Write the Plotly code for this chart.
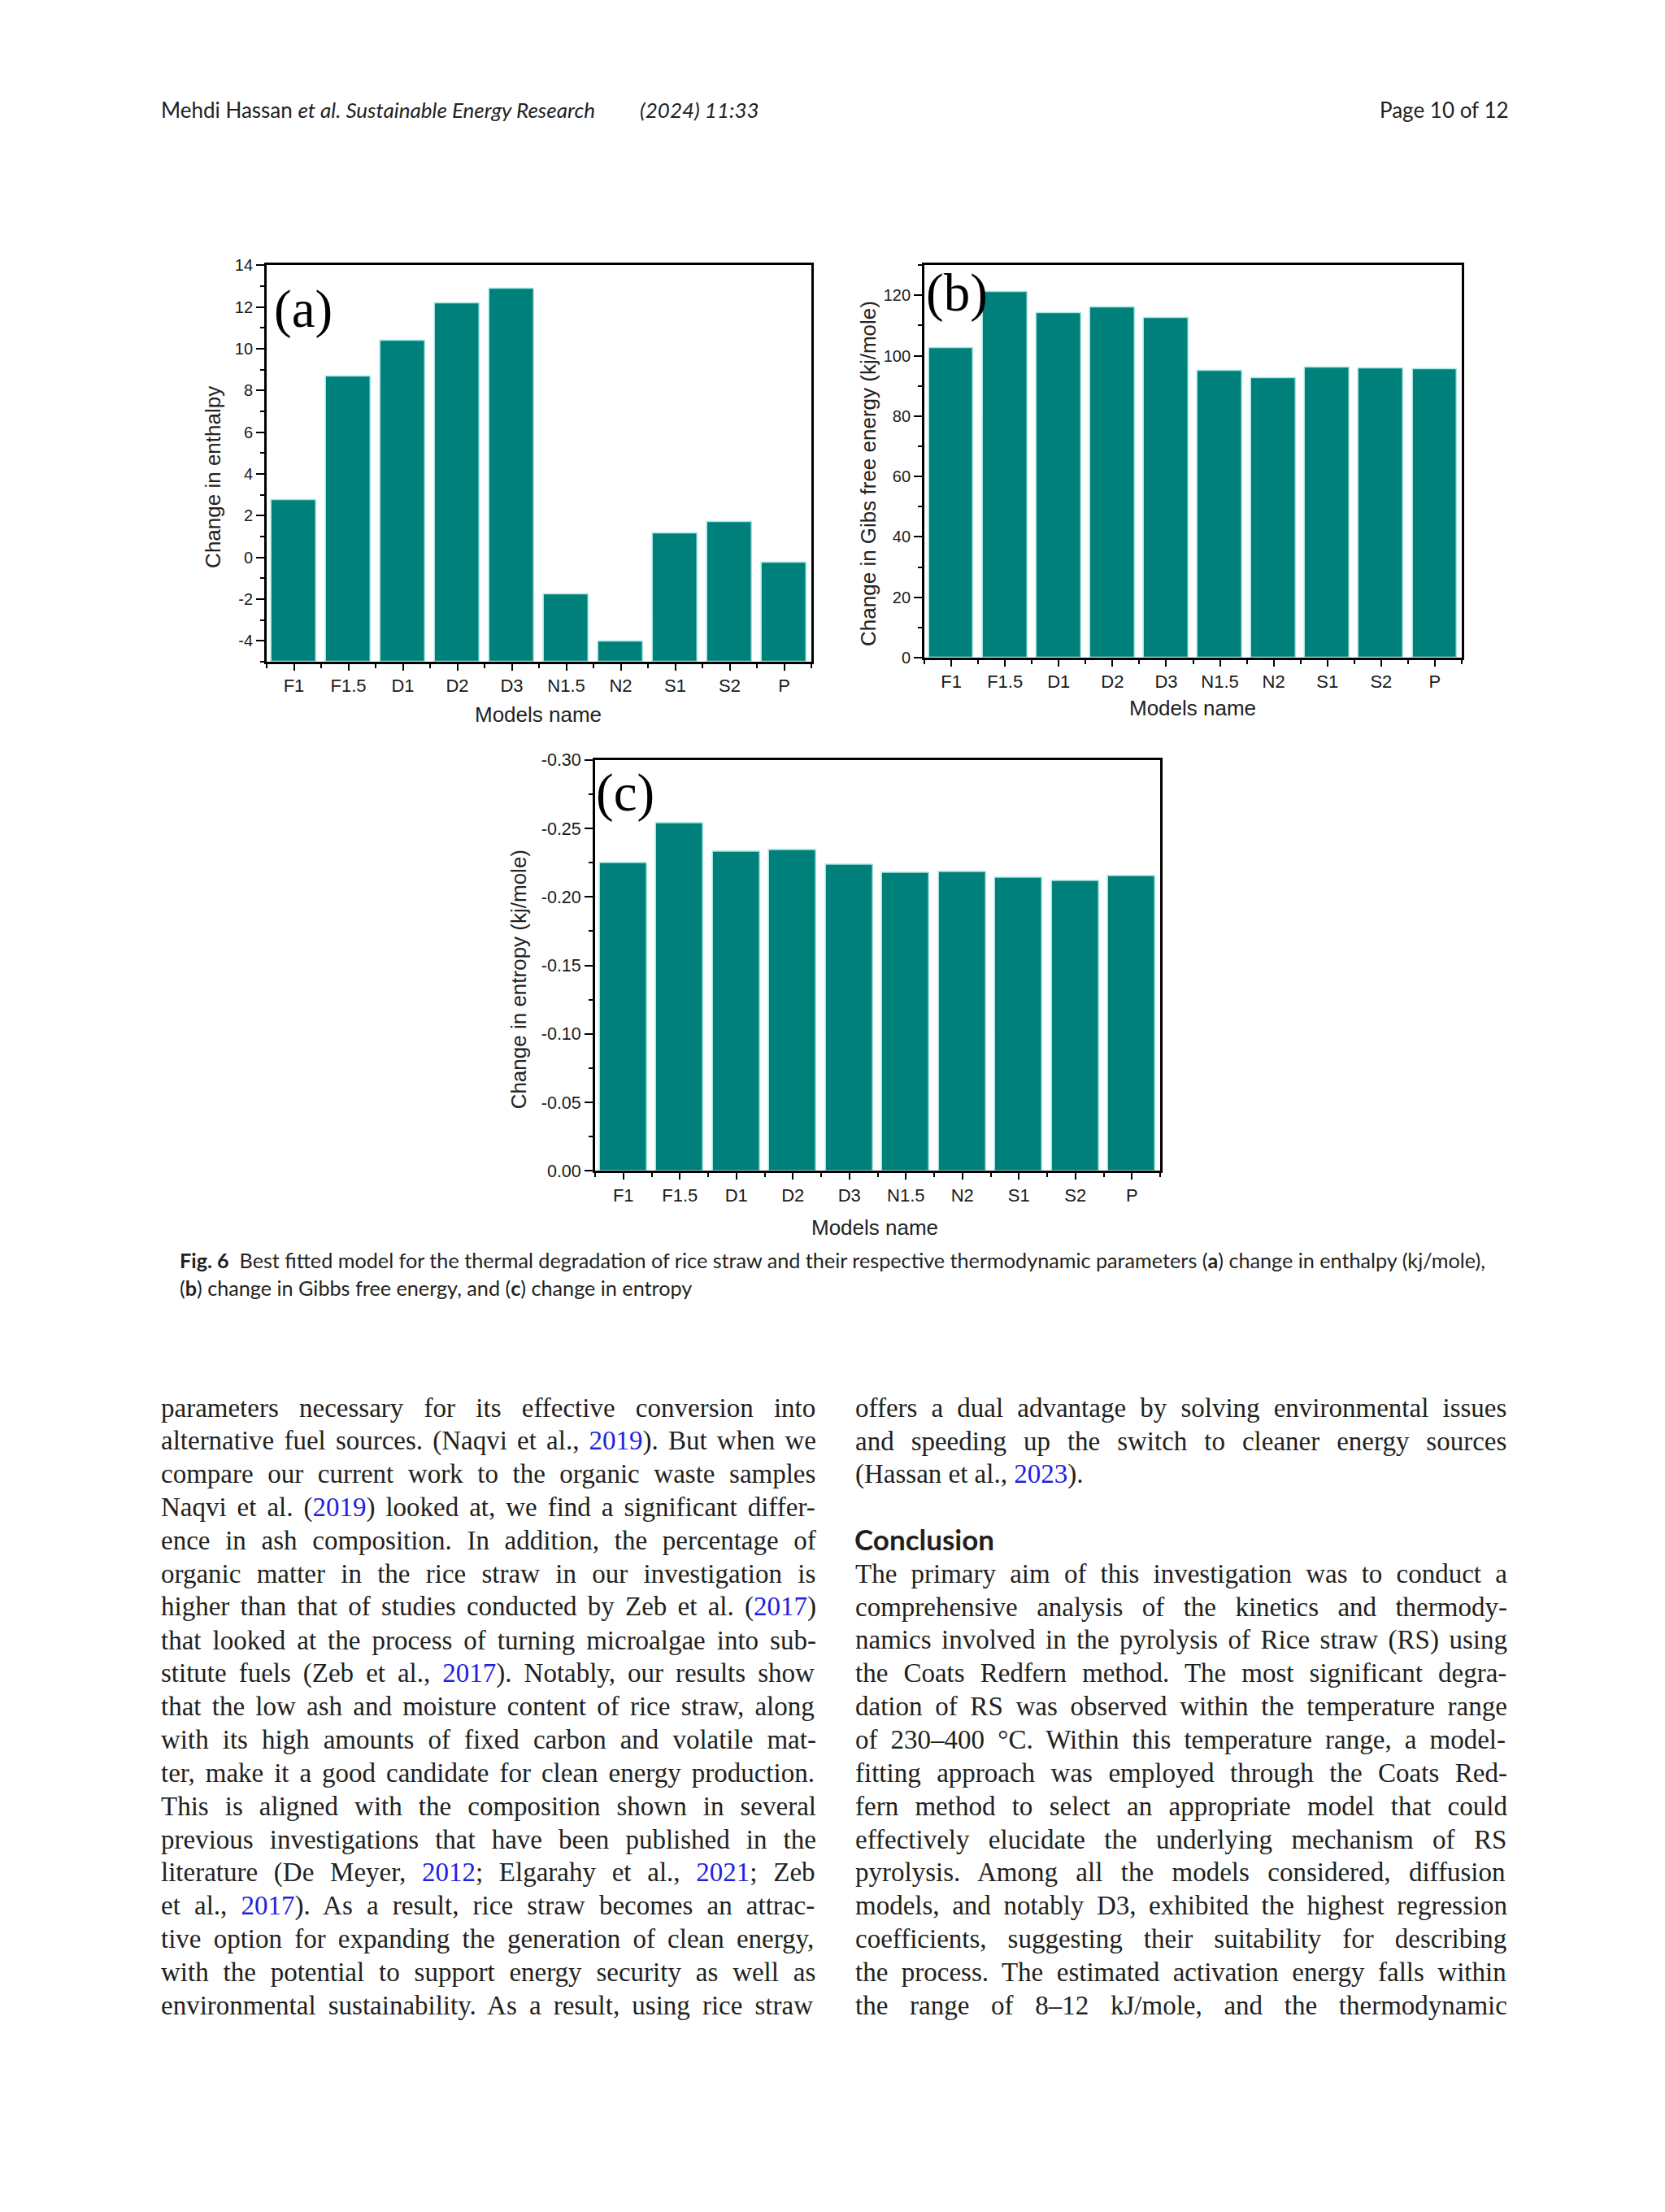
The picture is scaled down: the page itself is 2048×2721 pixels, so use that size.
import re
import plotly.graph_objects as go

# ---------------- data ----------------
models = ["F1", "F1.5", "D1", "D2", "D3", "N1.5", "N2", "S1", "S2", "P"]
enthalpy = [2.75, 8.65, 10.38, 12.15, 12.87, -1.78, -4.05, 1.16, 1.67, -0.27]
gibbs = [102.4, 121.2, 114.1, 116.1, 112.5, 95.0, 92.7, 96.2, 95.9, 95.5]
entropy = [-0.2245, -0.2537, -0.2328, -0.2340, -0.2236, -0.2176, -0.2180, -0.2138, -0.2116, -0.2152]

a_ticks = [-4, -2, 0, 2, 4, 6, 8, 10, 12, 14]
a_ticktext = ["-4", "-2", "0", "2", "4", "6", "8", "10", "12", "14"]
b_ticks = [0, 20, 40, 60, 80, 100, 120]
b_ticktext = ["0", "20", "40", "60", "80", "100", "120"]
c_ticks = [0.0, -0.05, -0.10, -0.15, -0.20, -0.25, -0.30]
c_ticktext = ["0.00", "-0.05", "-0.10", "-0.15", "-0.20", "-0.25", "-0.30"]

W, H = 2048, 2721
BAR = "#00807b"
EDGE = "#a6e6e2"
SANS = "Liberation Sans, Arial, sans-serif"
SERIF = "Liberation Serif, Times New Roman, serif"
PSANS = "Lato, Open Sans, sans-serif"
BLUE = "#1f1fe0"
INK = "#231f20"


def X(px):
    return px / W


def Y(py):
    return 1 - py / H


idx = list(range(len(models)))
bounds = [i - 0.5 for i in range(len(models) + 1)]

fig = go.Figure()

panels = [
    dict(vals=enthalpy, base=-5, ax="", x0=328, x1=998, top=318, bot=810,
         yr=[-5, 14], tv=a_ticks, tt=a_ticktext, mdt=1, yfs=20),
    dict(vals=gibbs, base=0, ax="2", x0=1137, x1=1798, top=318, bot=805,
         yr=[0, 130], tv=b_ticks, tt=b_ticktext, mdt=10, yfs=20),
    dict(vals=entropy, base=0, ax="3", x0=732, x1=1427, top=932, bot=1442,
         yr=[0, -0.30], tv=c_ticks, tt=c_ticktext, mdt=0.025, yfs=21.5),
]

for p in panels:
    lengths = [v - p["base"] for v in p["vals"]]
    fig.add_trace(go.Bar(
        x=idx, y=lengths, base=p["base"], width=0.83,
        marker=dict(color=BAR, line=dict(color=EDGE, width=1.5)),
        xaxis="x" + p["ax"], yaxis="y" + p["ax"], showlegend=False,
        customdata=p["vals"], hovertemplate="%{customdata}<extra></extra>",
    ))
    xa = dict(
        domain=[X(p["x0"]), X(p["x1"])], range=[-0.5, len(models) - 0.5],
        tickmode="array", tickvals=idx, ticktext=models,
        ticks="outside", ticklen=8, tickwidth=2.2, tickcolor="black",
        minor=dict(tickmode="array", tickvals=bounds, ticks="outside", ticklen=5, tickwidth=2, tickcolor="black"),
        showline=True, linecolor="black", linewidth=2.8, mirror=True,
        showgrid=False, zeroline=False,
        tickfont=dict(family=SANS, size=22, color="#1a1a1a"),
        anchor="y" + p["ax"], fixedrange=True,
    )
    ya = dict(
        domain=[Y(p["bot"]), Y(p["top"])], range=p["yr"], autorange=False,
        tickmode="array", tickvals=p["tv"], ticktext=p["tt"],
        ticks="outside", ticklen=10, tickwidth=2.2, tickcolor="black",
        minor=dict(dtick=p["mdt"], tick0=0, ticks="outside", ticklen=5, tickwidth=2, tickcolor="black"),
        showline=True, linecolor="black", linewidth=2.8, mirror=True,
        showgrid=False, zeroline=False,
        tickfont=dict(family=SANS, size=p["yfs"], color="#1a1a1a"),
        anchor="x" + p["ax"], fixedrange=True,
    )
    fig.update_layout(**{"xaxis" + p["ax"]: xa, "yaxis" + p["ax"]: ya})

ann = []


def text(x, y, s, size, family, xanchor="left", color="black", angle=0):
    ann.append(dict(x=X(x), y=Y(y), xref="paper", yref="paper", text=s, showarrow=False,
                    xanchor=xanchor, yanchor="middle", textangle=angle,
                    font=dict(size=size, family=family, color=color)))


# panel letters
text(373, 372, "(a)", 65, SERIF, "center")
text(1177, 352, "(b)", 65, SERIF, "center")
text(769, 973, "(c)", 65, SERIF, "center")

# axis titles
text(662, 876, "Models name", 26, SANS, "center", "#222")
text(1467, 868, "Models name", 26, SANS, "center", "#222")
text(1076, 1512, "Models name", 26, SANS, "center", "#222")
text(262, 581, "Change in enthalpy", 26, SANS, "center", "#222", -90)
text(1068, 577, "Change in Gibs free energy (kj/mole)", 26, SANS, "center", "#222", -90)
text(638, 1205, "Change in entropy (kj/mole)", 26, SANS, "center", "#222", -90)

# header
text(196, 125, "Mehdi Hassan <i>et al. Sustainable Energy Research</i>", 26, PSANS, "left", INK)
text(785, 125, "<i>(2024) 11:33</i>", 26, PSANS, "left", INK)
text(1858, 125, "Page 10 of 12", 26, PSANS, "right", INK)

# caption
text(219, 1553, "<b>Fig. 6</b>  Best fitted model for the thermal degradation of rice straw and their respective "
     "thermodynamic parameters (<b>a</b>) change in enthalpy (kj/mole),", 25.2, PSANS, "left", INK)
text(219, 1587, "(<b>b</b>) change in Gibbs free energy, and (<b>c</b>) change in entropy", 25.2, PSANS, "left", INK)

# ---------------- body text ----------------
left_lines = [
    "parameters necessary for its effective conversion into",
    "alternative fuel sources. (Naqvi et al., {2019}). But when we",
    "compare our current work to the organic waste samples",
    "Naqvi et al. ({2019}) looked at, we find a significant differ-",
    "ence in ash composition. In addition, the percentage of",
    "organic matter in the rice straw in our investigation is",
    "higher than that of studies conducted by Zeb et al. ({2017})",
    "that looked at the process of turning microalgae into sub-",
    "stitute fuels (Zeb et al., {2017}). Notably, our results show",
    "that the low ash and moisture content of rice straw, along",
    "with its high amounts of fixed carbon and volatile mat-",
    "ter, make it a good candidate for clean energy production.",
    "This is aligned with the composition shown in several",
    "previous investigations that have been published in the",
    "literature (De Meyer, {2012}; Elgarahy et al., {2021}; Zeb",
    "et al., {2017}). As a result, rice straw becomes an attrac-",
    "tive option for expanding the generation of clean energy,",
    "with the potential to support energy security as well as",
    "environmental sustainability. As a result, using rice straw",
]
right_lines = [
    "offers a dual advantage by solving environmental issues",
    "and speeding up the switch to cleaner energy sources",
    "(Hassan et al., {2023}).",
    None,
    "Conclusion",
    "The primary aim of this investigation was to conduct a",
    "comprehensive analysis of the kinetics and thermody-",
    "namics involved in the pyrolysis of Rice straw (RS) using",
    "the Coats Redfern method. The most significant degra-",
    "dation of RS was observed within the temperature range",
    "of 230–400 °C. Within this temperature range, a model-",
    "fitting approach was employed through the Coats Red-",
    "fern method to select an appropriate model that could",
    "effectively elucidate the underlying mechanism of RS",
    "pyrolysis. Among all the models considered, diffusion",
    "models, and notably D3, exhibited the highest regression",
    "coefficients, suggesting their suitability for describing",
    "the process. The estimated activation energy falls within",
    "the range of 8–12 kJ/mole, and the thermodynamic",
]
ragged_right = {2}          # paragraph-final line (not justified)
heading_right = {4}

# Times / Liberation Serif advance widths (1/1000 em)
TW = {" ": 250, "!": 333, "(": 333, ")": 333, ",": 250, "-": 333, ".": 250, "/": 278,
      ":": 278, ";": 278, "?": 444, "–": 500, "°": 400, "'": 333}
for ch in "0123456789":
    TW[ch] = 500
TW.update(dict(A=722, B=667, C=667, D=722, E=611, F=556, G=722, H=722, I=333, J=389, K=722,
               L=611, M=889, N=722, O=722, P=556, Q=722, R=667, S=556, T=611, U=722, V=722,
               W=944, X=722, Y=722, Z=611))
TW.update(dict(a=444, b=500, c=444, d=500, e=444, f=333, g=500, h=500, i=278, j=278, k=500,
               l=278, m=778, n=500, o=500, p=500, q=500, r=333, s=389, t=278, u=500, v=500,
               w=722, x=500, y=500, z=444))

BODY = 33
LINE0, LEAD = 1736, 41.2


def segs(s):
    parts = re.split(r"(\{[^}]*\})", s)
    out = []
    for part in parts:
        if not part:
            continue
        if part.startswith("{"):
            out.append((part[1:-1], BLUE))
        else:
            out.append((part, None))
    return out


def line_html(s, justify, colw):
    sg = segs(s)
    plain = "".join(t for t, _ in sg)
    ws = 0.0
    if justify:
        nat = sum(TW.get(ch, 500) for ch in plain) * BODY / 1000.0
        nsp = plain.count(" ")
        if nsp:
            ws = max(0.0, (colw - nat) / nsp)
    html = ""
    for t, col in sg:
        style = "word-spacing:%.2fpx" % ws
        if col:
            style += ";color:%s" % col
        html += '<span style="%s">%s</span>' % (style, t)
    return html


for i, s in enumerate(left_lines):
    text(196, LINE0 + i * LEAD, line_html(s, True, 806), BODY, SERIF, "left", INK)
for i, s in enumerate(right_lines):
    if s is None:
        continue
    if i in heading_right:
        text(1049, LINE0 + i * LEAD - 2, "<b>%s</b>" % s, 35, PSANS, "left", INK)
    else:
        text(1050, LINE0 + i * LEAD, line_html(s, i not in ragged_right, 802), BODY, SERIF, "left", INK)

fig.update_layout(
    width=W, height=H, margin=dict(l=0, r=0, t=0, b=0),
    paper_bgcolor="white", plot_bgcolor="white",
    annotations=ann, showlegend=False, bargap=0,
)

fig.write_html("out.html", config={"displayModeBar": False},
               post_script="document.body.style.margin='0';")
